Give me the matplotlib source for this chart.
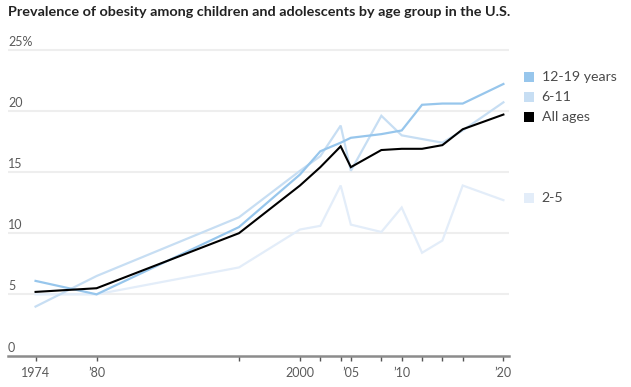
import matplotlib
matplotlib.use("Agg")
import matplotlib.pyplot as plt
import matplotlib.transforms as mtransforms
from matplotlib.patches import Rectangle

years = [1974, 1980, 1994, 2000, 2002, 2004, 2005, 2008, 2010, 2012, 2014, 2016, 2020]
age_2_5 = [5.0, 5.0, 7.2, 10.3, 10.6, 13.9, 10.7, 10.1, 12.1, 8.4, 9.4, 13.9, 12.7]
age_6_11 = [4.0, 6.5, 11.3, 15.1, 16.3, 18.8, 15.1, 19.6, 18.0, 17.7, 17.4, 18.4, 20.7]
age_12_19 = [6.1, 5.0, 10.5, 14.8, 16.7, 17.4, 17.8, 18.1, 18.4, 20.5, 20.6, 20.6, 22.2]
all_ages = [5.2, 5.5, 10.0, 13.9, 15.4, 17.1, 15.4, 16.8, 16.9, 16.9, 17.2, 18.5, 19.7]

y_ticks = [5, 10, 15, 20, 25]
y_labels = ["5", "10", "15", "20", "25%"]
x_major = [1974, 1980, 2000, 2005, 2010, 2020]
x_major_labels = ["1974", "\u201980", "2000", "\u201905", "\u201910", "\u201920"]

series_names = ["12-19 years", "6-11", "All ages", "2-5"]
c_12_19 = "#97c6ec"
c_6_11 = "#c7def3"
c_all = "#000000"
c_2_5 = "#e3edf9"

plt.rcParams['font.family'] = ['Lato', 'DejaVu Sans']

W, H = 631, 387
fig = plt.figure(figsize=(W / 100, H / 100), dpi=100)

def fx(px):
    return px / W

def fy(py):
    return (H - py) / H

ax_left, ax_right = 8, 509
ax_bottom, ax_top = 355.5, 42.4
ax = fig.add_axes([fx(ax_left), fy(ax_bottom), fx(ax_right - ax_left), (ax_bottom - ax_top) / H])
ax.set_xlim(1971.29, 2020.55)
ax.set_ylim(0, 25.6)

for v in y_ticks:
    ax.axhline(v, color="#eeeeee", lw=1.5, zorder=1)

ax.plot(years, age_2_5, color=c_2_5, lw=1.6, zorder=2, solid_joinstyle='miter')
ax.plot(years, age_6_11, color=c_6_11, lw=1.6, zorder=3, solid_joinstyle='miter')
ax.plot(years, age_12_19, color=c_12_19, lw=1.6, zorder=4, solid_joinstyle='miter')
ax.plot(years, all_ages, color=c_all, lw=1.5, zorder=5, solid_joinstyle='miter')

for s in ["top", "right", "left"]:
    ax.spines[s].set_visible(False)
ax.spines["bottom"].set_color("#8c8c8c")
ax.spines["bottom"].set_linewidth(1.8)
ax.set_yticks([])
ax.set_xticks(x_major)
ax.set_xticklabels(x_major_labels)
ax.set_xticks([y for y in years if y not in x_major], minor=True)
ax.tick_params(axis="x", which="both", direction="out", length=3.5, width=1.0,
               color="#555555", labelsize=9, labelcolor="#5a5a5a", pad=5)

trans = ax.get_yaxis_transform() + mtransforms.ScaledTranslation(0, 2 / 100, fig.dpi_scale_trans)
for v, lab in zip(y_ticks + [0], y_labels + ["0"]):
    ax.text(0, v, lab, transform=trans, ha="left", va="bottom", fontsize=9,
            color="#5a5a5a", zorder=6)

fig.text(fx(8), fy(12), "Prevalence of obesity among children and adolescents by age group in the U.S.",
         fontsize=10.4, fontweight="bold", color="#222222", ha="left", va="center")

legend_colors = [c_12_19, c_6_11, c_all, c_2_5]
legend_y = [77.3, 97.3, 117.3, 197.7]
for name, col, py in zip(series_names, legend_colors, legend_y):
    fig.add_artist(Rectangle((fx(524), fy(py + 5)), fx(10), 10 / H, transform=fig.transFigure,
                             facecolor=col, edgecolor="none"))
    fig.text(fx(541.5), fy(py), name, fontsize=10.2, color="#4a4a4a", ha="left", va="center")

fig.savefig("out.png", dpi=100)
